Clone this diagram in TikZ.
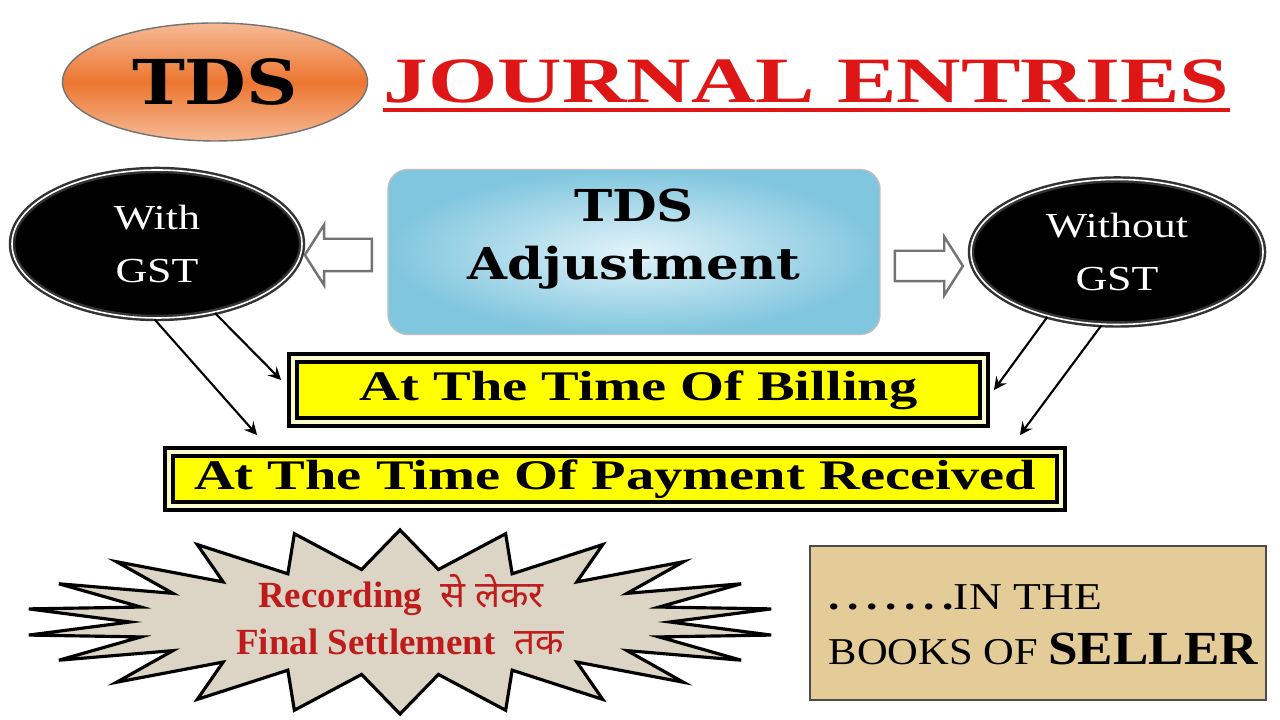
\documentclass[tikz,border=0pt]{standalone}
\usepackage{fontspec}
\setmainfont{Liberation Serif}
\newfontfamily\slabfont{DejaVu Serif}
\newfontfamily\hindifont[Script=Devanagari]{Noto Sans}
\usepackage{graphicx}
\usetikzlibrary{calc,positioning,arrows,shapes.geometric,shapes.arrows}

\definecolor{tdsorange}{RGB}{236,118,48}
\definecolor{tdspeach}{RGB}{246,186,150}
\definecolor{titlered}{RGB}{222,22,22}
\definecolor{adjblue}{RGB}{128,198,222}
\definecolor{adjlight}{RGB}{226,243,249}
\definecolor{boxyellow}{RGB}{255,255,0}
\definecolor{paleyellow}{RGB}{250,250,205}
\definecolor{burstfill}{RGB}{220,212,196}
\definecolor{burstred}{RGB}{190,28,28}
\definecolor{papyrus}{RGB}{228,204,152}

\newcommand{\widen}[2]{\scalebox{#1}[1]{#2}}

\tikzstyle{arrow} = [semithick,->,>=stealth]
\tikzstyle{hollow} = [single arrow, draw=black!55, fill=white, line width=0.7pt, minimum height=0.67cm, inner sep=0.15cm, single arrow head extend=0.14cm, single arrow tip angle=115]
\tikzstyle{underline} = [titlered, line width=0.9pt]

\begin{document}
\begin{tikzpicture}
\tikzset{%
	badge/.style = { ellipse, draw=black!55, top color=tdspeach, bottom color=tdspeach, middle color=tdsorange, minimum width=3.05cm, minimum height=1.18cm, inner sep=0pt, font=\slabfont\bfseries\fontsize{17.6}{20}\selectfont},
	title/.style = { anchor=base, inner sep=0pt, text=titlered, font=\bfseries\fontsize{18.4}{22}\selectfont},
	adjbox/.style = { rectangle, rounded corners=0.2cm, draw=black!25, inner color=adjlight, outer color=adjblue, minimum width=4.92cm, minimum height=1.65cm},
	adjlabel/.style = { align=center, inner sep=0pt, font=\slabfont\bfseries\fontsize{12.5}{16.5}\selectfont},
	gstoval/.style = { ellipse, fill=black, draw=black!80, double=white, double distance=0.45pt, line width=0.7pt, text=white, align=center, inner sep=0pt, font=\fontsize{10}{15}\selectfont},
	timebox/.style = { rectangle, fill=boxyellow, draw=black, double=paleyellow, double distance=1.1pt, line width=1.1pt, inner sep=0pt, font=\fontsize{12}{14}\selectfont\bfseries},
	burst/.style = { fill=burstfill, draw=black, line width=0.9pt, line join=miter},
	burstlabel/.style = { anchor=base, inner sep=0pt, text=burstred, font=\fontsize{10.5}{12}\selectfont\bfseries},
	books/.style = { rectangle, draw=black!70, fill=papyrus, line width=0.7pt, minimum width=4.56cm, minimum height=1.54cm},
	bookslabel/.style = { anchor=base west, inner sep=0pt, font=\fontsize{10.8}{13}\selectfont}
}
\fill[white] (0,0) rectangle (12.8,7.2);
\useasboundingbox (0,0) rectangle (12.8,7.2);

\node(TDSBadge)		[badge] at (2.15,6.38)
								{\widen{1.15}{TDS}};
\node(Journal)		[title] at (8.065,6.17)
								{\widen{1.38}{JOURNAL ENTRIES}};
\draw [underline]	($(Journal.base west)+(0,-0.07)$) -- ($(Journal.base east)+(0,-0.07)$);

\node(Adjust)		[adjbox] at (6.34,4.68) {};
\node(AdjustLabel)	[adjlabel] at ($(Adjust)+(0,0.13)$)
								{\widen{1.17}{TDS}\\\widen{1.17}{Adjustment}};
\node(WithGST)		[gstoval, minimum width=2.9cm, minimum height=1.48cm] at (1.57,4.76)
								{\widen{1.25}{With}\\\widen{1.25}{GST}};
\node(WithoutGST)	[gstoval, minimum width=2.92cm, minimum height=1.45cm] at (11.17,4.68)
								{\widen{1.25}{Without}\\\widen{1.25}{GST}};

\node(ArrowL)		[hollow, shape border rotate=180] at (3.435,4.65) {};
\node(ArrowR)		[hollow, minimum height=0.68cm, inner sep=0.14cm] at (9.24,4.54) {};

\node(Billing)		[timebox, minimum width=6.91cm, minimum height=0.64cm] at (6.385,3.30)
								{\widen{1.34}{At The Time Of Billing}};
\node(Payment)		[timebox, minimum width=8.92cm, minimum height=0.54cm] at (6.15,2.41)
								{\widen{1.34}{At The Time Of Payment Received}};

\coordinate (BillingL) at ($(Billing.west)+(-0.1,0.1)$);
\coordinate (BillingR) at ($(Billing.east)+(0.08,0)$);
\coordinate (PaymentL) at ($(Payment.north west)+(0.9,0.15)$);
\coordinate (PaymentR) at ($(Payment.north east)+(-0.43,0.15)$);

\draw [arrow]	(WithGST.-50)		--	(BillingL);
\draw [arrow]	(WithGST.-92)		--	(PaymentL);
\draw [arrow]	(WithoutGST.-137)	--	(BillingR);
\draw [arrow]	(WithoutGST.-102)	--	(PaymentR);

% starburst
\draw [burst, shift={(4.0,0.98)}] (90:3.75cm and 0.92cm)
	\foreach \k [evaluate=\k as \rx using {mod(\k,2)==0 ? 3.75 : 2.70},
	             evaluate=\k as \ry using {mod(\k,2)==0 ? 0.92 : 0.53}] in {1,...,43}
	{ -- (90+\k*360/44:\rx cm and \ry cm) } -- cycle;
\node(BurstTop)		[burstlabel] at (4.01,1.12)
								{Recording\ \ {\hindifont से लेकर}};
\node(BurstBottom)	[burstlabel] at (4.0,0.65)
								{Final Settlement\ \ {\hindifont तक}};

\node(Books)		[books] at (10.38,0.97) {};
\node(BooksTop)		[bookslabel] at (8.28,1.10)
								{\widen{1.2}{\textbf{.\,.\,.\,.\,.\,.\,.}IN THE}};
\node(BooksBottom)	[bookslabel] at (8.28,0.55)
								{\widen{1.12}{BOOKS OF \textbf{\fontsize{13.5}{16}\selectfont SELLER}}};

\end{tikzpicture}
\end{document}
